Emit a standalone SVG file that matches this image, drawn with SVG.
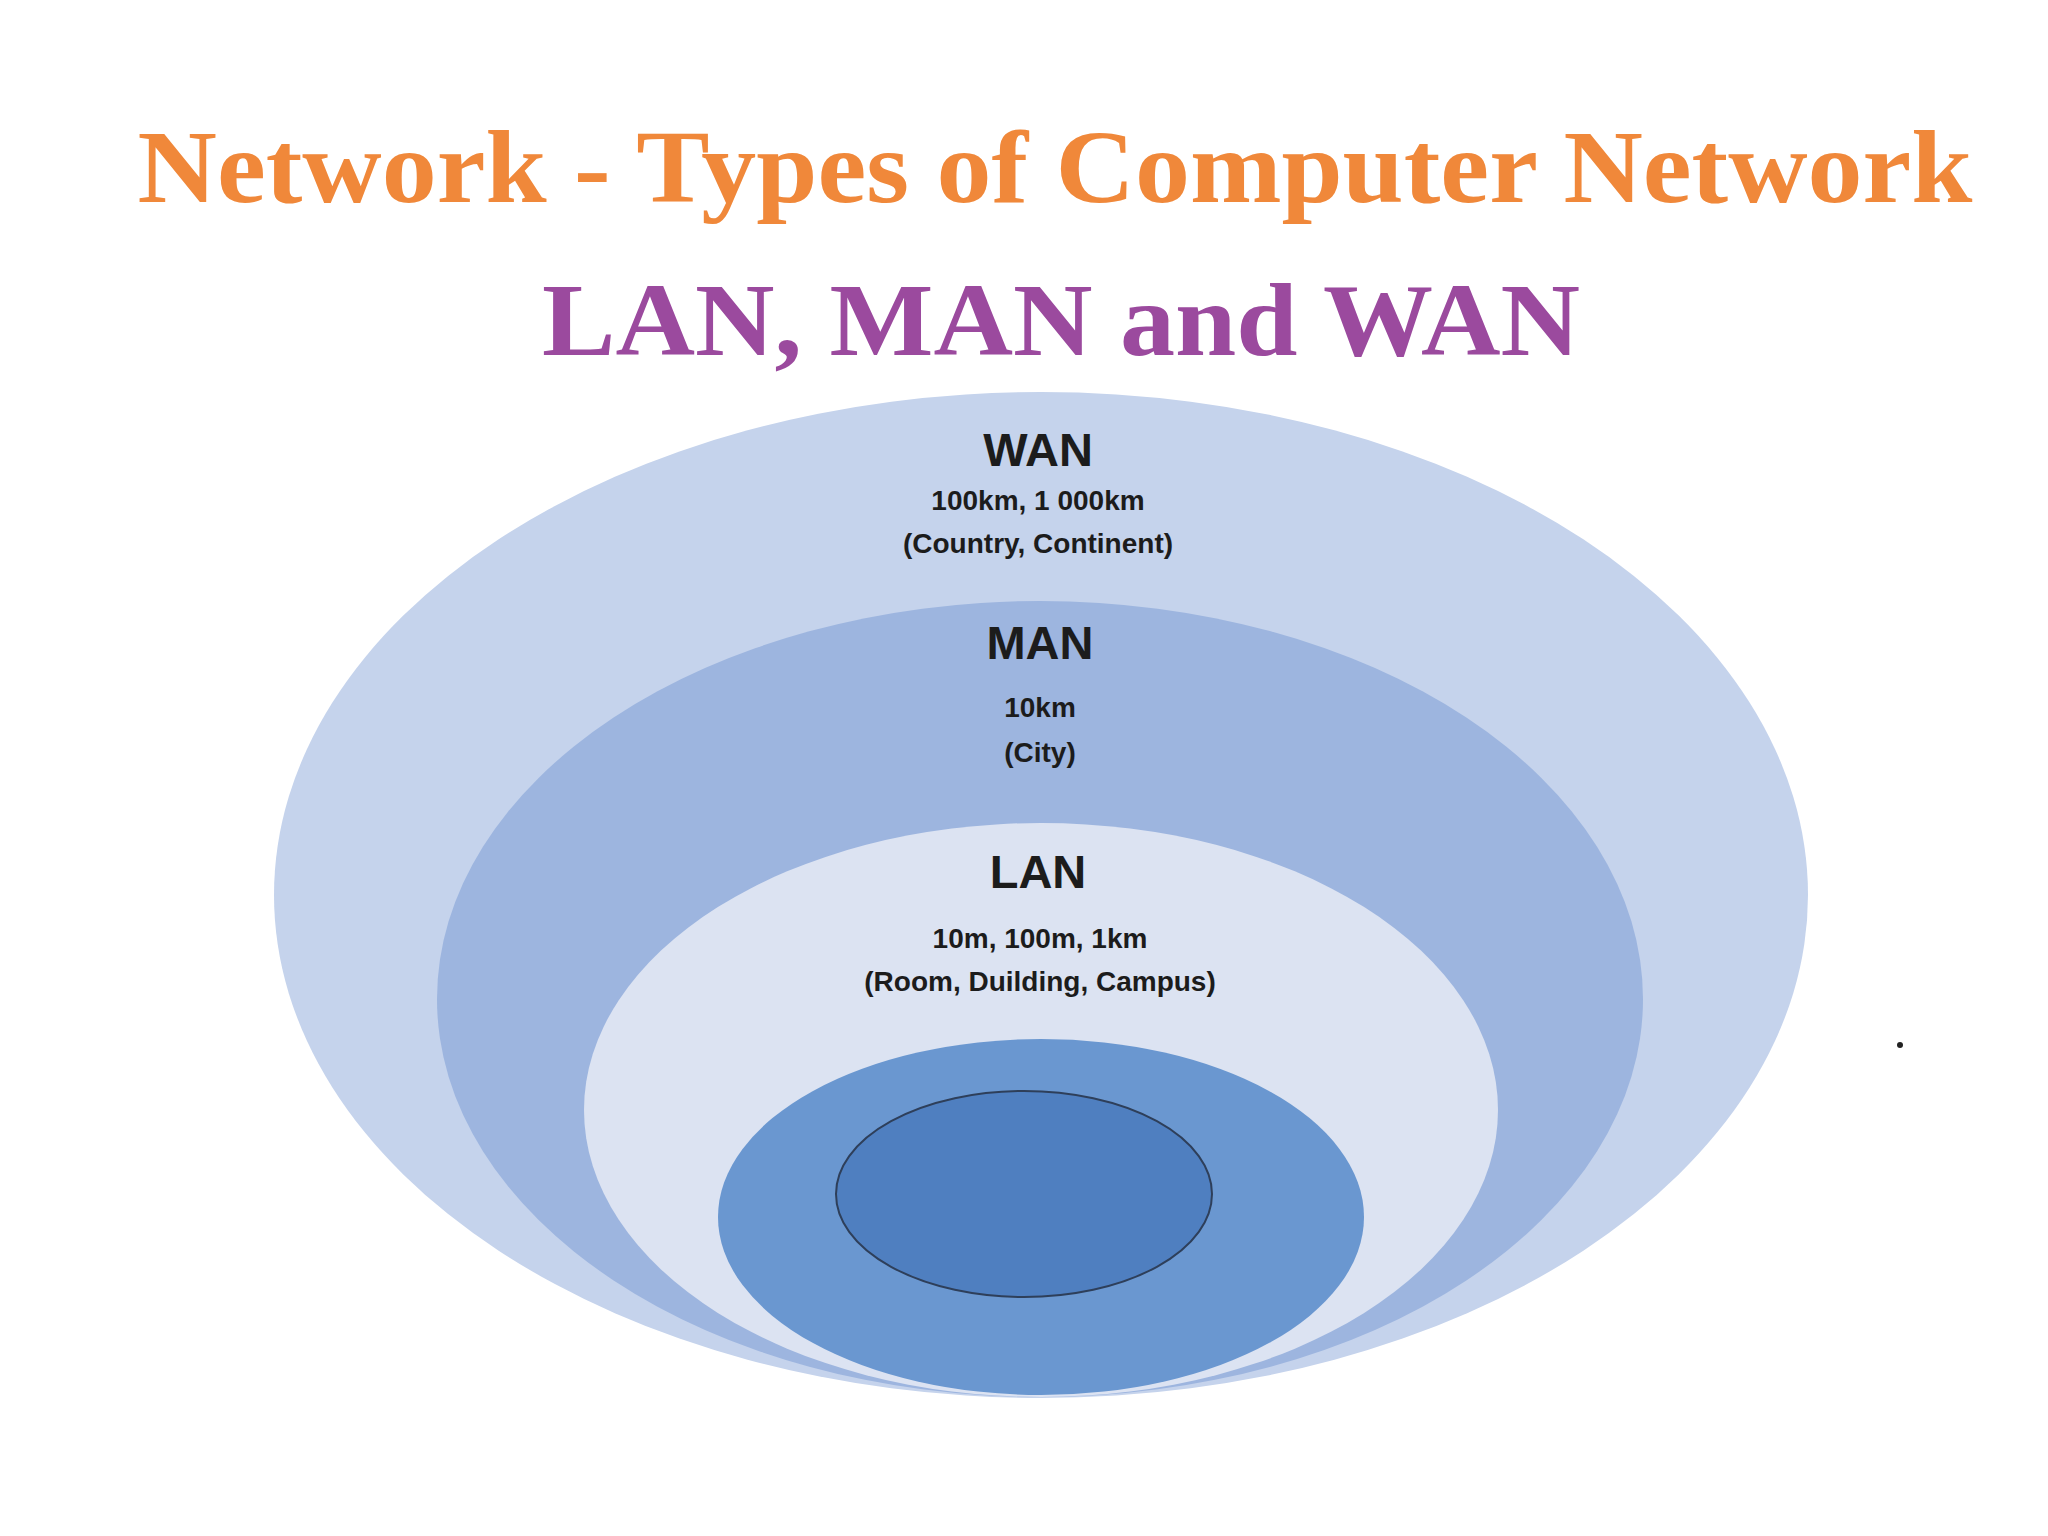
<svg xmlns="http://www.w3.org/2000/svg" width="2048" height="1536" viewBox="0 0 2048 1536">
<style>
.t1{font-family:"Liberation Serif",serif;font-weight:bold;text-anchor:middle}
.h{font-family:"Liberation Sans",Arial,sans-serif;font-weight:bold;font-size:47px;fill:#1c1c1c;text-anchor:middle}
.s{font-family:"Liberation Sans",Arial,sans-serif;font-weight:bold;font-size:28px;fill:#1c1c1c;text-anchor:middle}
</style>
<rect width="2048" height="1536" fill="#ffffff"/>
<text class="t1" x="1055" y="202" font-size="104" fill="#F0883A" textLength="1835" lengthAdjust="spacingAndGlyphs">Network - Types of Computer Network</text>
<text class="t1" x="1061" y="355" font-size="104" fill="#9B4A9E" textLength="1038" lengthAdjust="spacingAndGlyphs">LAN, MAN and WAN</text>
<g id="wan"><ellipse cx="1041" cy="895" rx="767" ry="503" fill="#C5D3EC"/>
<text class="h" x="1038" y="466">WAN</text><text class="s" x="1038" y="510">100km, 1 000km</text><text class="s" x="1038" y="553">(Country, Continent)</text></g>
<g id="man"><ellipse cx="1040" cy="999" rx="603" ry="398" fill="#9DB5DF"/>
<text class="h" x="1040" y="659">MAN</text><text class="s" x="1040" y="717">10km</text><text class="s" x="1040" y="762">(City)</text></g>
<g id="lan"><ellipse cx="1041" cy="1110" rx="457" ry="287" fill="#DCE3F2"/>
<text class="h" x="1038" y="888">LAN</text><text class="s" x="1040" y="948">10m, 100m, 1km</text><text class="s" x="1040" y="991">(Room, Duilding, Campus)</text></g>
<g id="core"><ellipse cx="1041" cy="1217" rx="323" ry="178" fill="#6A97D0"/>
<ellipse cx="1024" cy="1194" rx="188" ry="103" fill="#4F7FC0" stroke="#2E3F5A" stroke-width="2"/></g>
<circle cx="1900" cy="1045" r="3" fill="#222"/>
<g id="connectors"/>
</svg>
